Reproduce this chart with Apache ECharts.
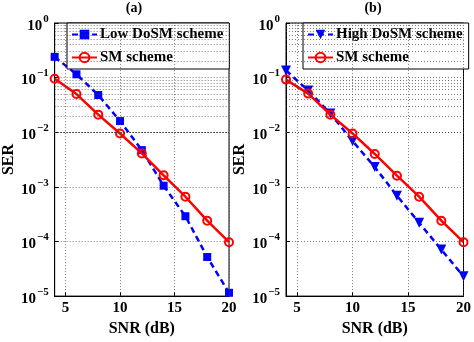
<!DOCTYPE html>
<html>
<head>
<meta charset="utf-8">
<script src="https://cdn.jsdelivr.net/npm/echarts@6/dist/echarts.min.js"></script>
<style>
html,body{margin:0;padding:0;background:#fff;}
#c{width:474px;height:342px;}
</style>
</head>
<body>
<div id="c"></div>
<script>
// ---- data ----
var snr = [4, 6, 8, 10, 12, 14, 16, 18, 20];
var lowDoSM = [0.24, 0.115, 0.048, 0.016, 0.0047, 0.00105, 0.00029, 0.000052, 0.0000115];
var smA = [0.095, 0.05, 0.021, 0.0095, 0.0041, 0.00163, 0.00066, 0.00024, 0.000097];
var highDoSM = [0.135, 0.058, 0.022, 0.0069, 0.0023, 0.00069, 0.00022, 0.000071, 0.000023];
var smB = [0.092, 0.051, 0.021, 0.0095, 0.004, 0.0016, 0.00066, 0.00024, 0.000097];
var xTicks = [5, 10, 15, 20];
var titles = ['(a)', '(b)'];
var names = ['Low DoSM scheme', 'High DoSM scheme', 'SM scheme'];

function pairs(xs, ys) { return xs.map(function (x, i) { return [x, ys[i]]; }); }

var FONT = '"Liberation Serif", "Times New Roman", serif';

// minor grid values for log axis
var minorVals = [];
for (var d = -5; d < 0; d++) {
  for (var k = 2; k <= 9; k++) minorVals.push(k * Math.pow(10, d));
}
var gridLineStyle = { color: '#444', width: 0.7, type: [1, 2] };

function gridMarks() {
  var data = [];
  minorVals.forEach(function (v) { data.push({ yAxis: v }); });
  xTicks.forEach(function (v) { data.push({ xAxis: v }); });
  return {
    silent: true, symbol: 'none', animation: false,
    label: { show: false },
    lineStyle: gridLineStyle,
    emphasis: { disabled: true },
    data: data
  };
}

var grids = [
  { left: 47, top: 23, width: 182, height: 284, show: true, borderColor: '#000', borderWidth: 1, backgroundColor: '#fff' },
  { left: 286, top: 23, width: 182, height: 284, show: true, borderColor: '#000', borderWidth: 1, backgroundColor: '#fff' }
];

function xAxis(i) {
  return {
    gridIndex: i, type: 'value', min: 4, max: 20,
    name: 'SNR (dB)', nameLocation: 'middle', nameGap: 23,
    nameTextStyle: { fontFamily: FONT, fontWeight: 'bold', fontSize: 16, color: '#000' },
    axisLine: { lineStyle: { color: '#000', width: 1 } },
    axisTick: { inside: true, length: 4, customValues: xTicks, lineStyle: { color: '#000' } },
    axisLabel: { customValues: xTicks, fontFamily: FONT, fontWeight: 'bold', fontSize: 15, color: '#000', margin: 5 },
    splitLine: { show: false }
  };
}
function yAxis(i) {
  return {
    gridIndex: i, type: 'log', min: 0.00001, max: 1, logBase: 10,
    name: 'SER', nameLocation: 'middle', nameGap: 33, nameRotate: 90,
    nameTextStyle: { fontFamily: FONT, fontWeight: 'bold', fontSize: 16, color: '#000' },
    axisLine: { lineStyle: { color: '#000', width: 1 } },
    axisTick: { inside: true, length: 4, lineStyle: { color: '#000' } },
    axisLabel: {
      margin: 6, color: '#000',
      formatter: function (v) {
        var e = Math.round(Math.log10(v));
        return '{b|10}{s|' + (e < 0 ? '\u2212' + (-e) : e) + '}';
      },
      rich: {
        b: { fontFamily: FONT, fontWeight: 'bold', fontSize: 15, color: '#000', padding: [6, 0, 0, 0] },
        s: { fontFamily: FONT, fontWeight: 'bold', fontSize: 11, color: '#000', padding: [0, 0, 8, 1] }
      }
    },
    splitLine: { show: true, lineStyle: gridLineStyle }
  };
}

var blueDash = { color: '#0000ff', width: 2.5, type: [6, 4] };
var redSolid = { color: '#ff0000', width: 2.5, type: 'solid' };

var series = [
  { type: 'line', name: '_gridA', xAxisIndex: 0, yAxisIndex: 0, data: [], z: 1, markLine: gridMarks(), silent: true },
  { type: 'line', name: '_gridB', xAxisIndex: 1, yAxisIndex: 1, data: [], z: 1, markLine: gridMarks(), silent: true },
  {
    type: 'line', name: names[0], xAxisIndex: 0, yAxisIndex: 0, z: 3,
    data: pairs(snr, lowDoSM), symbol: 'rect', symbolSize: 8,
    color: '#0000ff', lineStyle: blueDash, itemStyle: { color: '#0000ff' }
  },
  {
    type: 'line', name: names[2], xAxisIndex: 0, yAxisIndex: 0, z: 4,
    data: pairs(snr, smA), symbol: 'circle', symbolSize: 8,
    color: '#ff0000', lineStyle: redSolid, itemStyle: { color: 'rgba(255,255,255,0)', borderColor: '#ff0000', borderWidth: 2 }
  },
  {
    type: 'line', name: names[1], xAxisIndex: 1, yAxisIndex: 1, z: 3,
    data: pairs(snr, highDoSM), symbol: 'triangle', symbolRotate: 180, symbolSize: 10,
    color: '#0000ff', lineStyle: blueDash, itemStyle: { color: '#0000ff' }
  },
  {
    type: 'line', name: names[2], xAxisIndex: 1, yAxisIndex: 1, z: 4,
    data: pairs(snr, smB), symbol: 'circle', symbolSize: 8,
    color: '#ff0000', lineStyle: redSolid, itemStyle: { color: 'rgba(255,255,255,0)', borderColor: '#ff0000', borderWidth: 2 }
  }
];
series.forEach(function (s) { s.animation = false; });

function legend(left, data) {
  return {
    orient: 'vertical', left: left, top: 23, data: data,
    itemWidth: 25, itemHeight: 12, itemGap: 8,
    padding: [4, 6, 4, 4],
    backgroundColor: '#fff', borderColor: '#000', borderWidth: 1,
    selectedMode: false,
    textStyle: { fontFamily: FONT, fontWeight: 'bold', fontSize: 15, color: '#000', padding: [0, 0, 0, -2] }
  };
}

var option = {
  animation: false,
  backgroundColor: '#fff',
  grid: grids,
  xAxis: [xAxis(0), xAxis(1)],
  yAxis: [yAxis(0), yAxis(1)],
  legend: [legend(67, [names[0], names[2]]), legend(303, [names[1], names[2]])],
  graphic: [
    { type: 'text', x: 134, y: 1, style: { text: titles[0], font: 'bold 14px ' + FONT, fill: '#000', textAlign: 'center' } },
    { type: 'text', x: 373, y: 1, style: { text: titles[1], font: 'bold 14px ' + FONT, fill: '#000', textAlign: 'center' } }
  ],
  series: series
};

var chart = echarts.init(document.getElementById('c'), null, { renderer: 'canvas' });
chart.setOption(option);
</script>
</body>
</html>
